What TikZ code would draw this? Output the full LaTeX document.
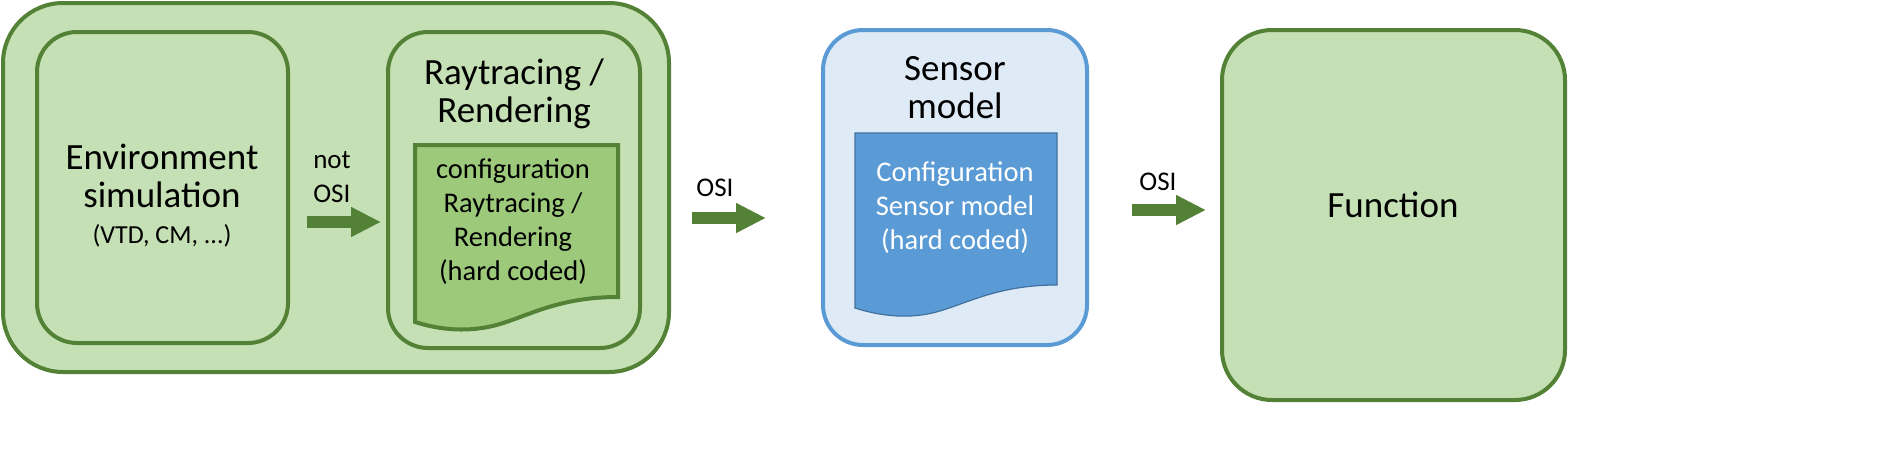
\documentclass[tikz,border=0pt]{standalone}
\usepackage{fontspec}
\setmainfont{Carlito}
\usetikzlibrary{arrows.meta}
\definecolor{gfill}{HTML}{C5E0B4}
\definecolor{gdark}{HTML}{538135}
\definecolor{gdoc}{HTML}{9DC97A}
\definecolor{bfill}{HTML}{DEEBF7}
\definecolor{bline}{HTML}{5B9BD5}
\definecolor{bdoc}{HTML}{5B9BD5}
\definecolor{bdocl}{HTML}{41719C}
\begin{document}
\begin{tikzpicture}[x=1pt,y=-1pt,
  gbox/.style={fill=gfill,draw=gdark,line width=4pt},
  bigtxt/.style={font=\fontsize{37}{38}\selectfont,align=center},
  doctxt/.style={font=\fontsize{28.5}{34}\selectfont,align=center},
  ositxt/.style={font=\fontsize{27}{34}\selectfont,align=left},
  blk/.style={line width=12pt,-{Triangle[length=30pt,width=28pt]},draw=gdark}]
\useasboundingbox (0,0) rectangle (1880,451);
\draw[gbox,rounded corners=60pt] (3,3) rectangle (669,372);
\draw[gbox,rounded corners=40pt] (37,32) rectangle (288,343);
\draw[gbox,rounded corners=40pt] (388,32) rectangle (640,348);
\draw[fill=gdoc,draw=gdark,line width=4pt] (415,145) -- (618,145) -- (618,297)
  .. controls (560,297) and (530,315) .. (500,324)
  .. controls (470,333) and (440,330) .. (415,322) -- cycle;
\node[bigtxt] (env) at (162,176) {Environment\\simulation};
\node[font=\fontsize{26}{30}\selectfont] (envs) at (162,236) {(VTD, CM, ...)};
\node[bigtxt] (ray) at (514,94) {Raytracing /\\Rendering};
\node[doctxt] (rcfg) at (513,222) {configuration\\Raytracing /\\Rendering\\(hard coded)};
\coordinate (a1s) at (307,222); \coordinate (a1e) at (381,222);
\draw[blk] (a1s) -- (a1e);
\node[ositxt] (a1t) at (332,177) {not\\OSI};
\coordinate (a2s) at (692,218); \coordinate (a2e) at (766,218);
\draw[blk] (a2s) -- (a2e);
\node[ositxt] (a2t) at (715,188) {OSI};
\draw[fill=bfill,draw=bline,line width=4pt,rounded corners=40pt] (823,30) rectangle (1087,345);
\draw[fill=bdoc,draw=bdocl,line width=1.2pt] (855,133) -- (1057,133) -- (1057,285)
  .. controls (1000,285) and (970,302) .. (940,311)
  .. controls (910,320) and (880,316) .. (855,308) -- cycle;
\node[bigtxt] (sen) at (955,88) {Sensor\\model};
\node[doctxt,text=white] (scfg) at (955,208) {Configuration\\Sensor model\\(hard coded)};
\coordinate (a3s) at (1132,210); \coordinate (a3e) at (1206,210);
\draw[blk] (a3s) -- (a3e);
\node[ositxt] (a3t) at (1158,182) {OSI};
\draw[gbox,rounded corners=50pt] (1222,30) rectangle (1565,400);
\node[bigtxt] (fun) at (1393,205) {Function};
\end{tikzpicture}
\end{document}
